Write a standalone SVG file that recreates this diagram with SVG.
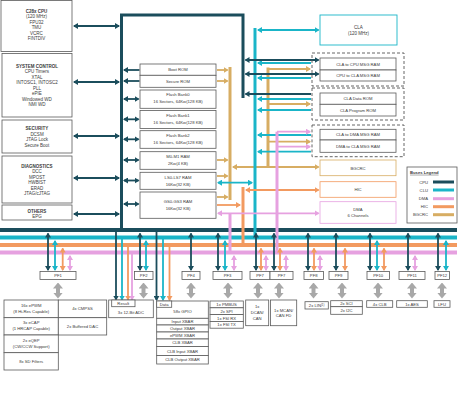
<svg xmlns="http://www.w3.org/2000/svg" width="474" height="400" viewBox="0 0 474 400">
<style>
.bx{fill:#fff;stroke:#5a5a5a;stroke-width:0.8}
.ds{fill:none;stroke:#555;stroke-width:0.9;stroke-dasharray:3 2}
text{font-family:"Liberation Sans",Arial,sans-serif;font-size:4.5px;fill:#3a3a3a;text-anchor:middle}
.b{font-weight:bold}
.s{font-size:4.2px}
.D{stroke:#1b4d5c;fill:none}
.C{stroke:#1ab5c8;fill:none}
.O{stroke:#f29a60;fill:none}
.P{stroke:#e6a1e0;fill:none}
.T{stroke:#d7ad63;fill:none}
.G{stroke:#a8a8a8;fill:none;stroke-width:4}
.w2{stroke-width:1.8}
.w3{stroke-width:3}
.w4{stroke-width:4}
</style>
<defs>
<marker id="mD" viewBox="0 0 5 6" refX="4" refY="3" markerWidth="5" markerHeight="6" markerUnits="userSpaceOnUse" orient="auto-start-reverse"><path d="M0,0L5,3L0,6z" fill="#1b4d5c"/></marker>
<marker id="mC" viewBox="0 0 5 6" refX="4" refY="3" markerWidth="5" markerHeight="6" markerUnits="userSpaceOnUse" orient="auto-start-reverse"><path d="M0,0L5,3L0,6z" fill="#1ab5c8"/></marker>
<marker id="mO" viewBox="0 0 5 6" refX="4" refY="3" markerWidth="5" markerHeight="6" markerUnits="userSpaceOnUse" orient="auto-start-reverse"><path d="M0,0L5,3L0,6z" fill="#f29a60"/></marker>
<marker id="mP" viewBox="0 0 5 6" refX="4" refY="3" markerWidth="5" markerHeight="6" markerUnits="userSpaceOnUse" orient="auto-start-reverse"><path d="M0,0L5,3L0,6z" fill="#e6a1e0"/></marker>
<marker id="mT" viewBox="0 0 5 6" refX="4" refY="3" markerWidth="5" markerHeight="6" markerUnits="userSpaceOnUse" orient="auto-start-reverse"><path d="M0,0L5,3L0,6z" fill="#d7ad63"/></marker>
<marker id="mG" viewBox="0 0 6 10" refX="3.5" refY="5" markerWidth="6" markerHeight="10" markerUnits="userSpaceOnUse" orient="auto-start-reverse"><path d="M0,0L6,5L0,10z" fill="#a8a8a8"/></marker>
</defs>
<rect width="474" height="400" fill="#fff"/>

<g id="connectors">
<!-- bottom buses -->
<line class="D w4" x1="0" y1="230" x2="457" y2="230"/>
<line class="C w4" x1="0" y1="237.5" x2="457" y2="237.5"/>
<line class="O w4" x1="0" y1="245" x2="457" y2="245"/>
<line class="P w4" x1="0" y1="252.5" x2="457" y2="252.5"/>
<!-- CPU frame -->
<path class="D w3" d="M121.5,230V15H243V98"/>
<!-- left blocks -->
<path class="D w2" d="M74,26H119" marker-start="url(#mD)" marker-end="url(#mD)"/>
<path class="D w2" d="M74,82H119" marker-start="url(#mD)" marker-end="url(#mD)"/>
<path class="D w2" d="M74,136H119" marker-start="url(#mD)" marker-end="url(#mD)"/>
<path class="D w2" d="M74,178H119" marker-start="url(#mD)" marker-end="url(#mD)"/>
<path class="D w2" d="M74,214H119" marker-start="url(#mD)" marker-end="url(#mD)"/>
<!-- memory CPU side -->
<path class="D w2" d="M139.5,70H124" marker-end="url(#mD)"/>
<path class="D w2" d="M139.5,81H124" marker-end="url(#mD)"/>
<path class="D w2" d="M124,99H138.5" marker-start="url(#mD)" marker-end="url(#mD)"/>
<path class="D w2" d="M124,119.3H138.5" marker-start="url(#mD)" marker-end="url(#mD)"/>
<path class="D w2" d="M124,139.3H138.5" marker-start="url(#mD)" marker-end="url(#mD)"/>
<path class="D w2" d="M124,160H138.5" marker-start="url(#mD)" marker-end="url(#mD)"/>
<path class="D w2" d="M124,180.5H138.5" marker-start="url(#mD)" marker-end="url(#mD)"/>
<path class="D w2" d="M124,204H138.5" marker-start="url(#mD)" marker-end="url(#mD)"/>
<!-- BGCRC -->
<path class="T w3" d="M230,67V200"/>
<path class="T w2" d="M217,70H227.5" marker-end="url(#mT)"/>
<path class="T w2" d="M217,81H227.5" marker-end="url(#mT)"/>
<path class="T w2" d="M217,160H227.5" marker-end="url(#mT)"/>
<path class="T w2" d="M217,176H227.5" marker-end="url(#mT)"/>
<path class="T w2" d="M217,197H227.5" marker-end="url(#mT)"/>
<path class="T w3" d="M268,167V67.5"/>
<path class="T w2" d="M233,167H318.5" marker-start="url(#mT)" marker-end="url(#mT)"/>
<path class="T w2" d="M268,69H310" marker-end="url(#mT)"/>
<path class="T w2" d="M268,104H310" marker-end="url(#mT)"/>
<path class="T w2" d="M268,141.7H310" marker-end="url(#mT)"/>
<!-- CLU -->
<path class="C w3" d="M255,28V237"/>
<path class="C w2" d="M258,30H318.5" marker-start="url(#mC)" marker-end="url(#mC)"/>
<path class="C w2" d="M311,63H258" marker-end="url(#mC)"/>
<path class="C w2" d="M311,78H258" marker-end="url(#mC)"/>
<path class="C w2" d="M311,99H258" marker-end="url(#mC)"/>
<path class="C w2" d="M311,110H258" marker-end="url(#mC)"/>
<path class="C w2" d="M311,135H258" marker-end="url(#mC)"/>
<path class="C w2" d="M311,151.7H258" marker-end="url(#mC)"/>
<path class="C w2" d="M218,182.7H252" marker-start="url(#mC)" marker-end="url(#mC)"/>
<!-- CPU to CLA msg -->
<path class="D w2" d="M245.5,60H318.5" marker-start="url(#mD)" marker-end="url(#mD)"/>
<path class="D w2" d="M245.5,74H318.5" marker-start="url(#mD)" marker-end="url(#mD)"/>
<path class="D w2" d="M311,94H245.5" marker-end="url(#mD)"/>
<!-- HIC -->
<path class="O w3" d="M243,187V245"/>
<path class="O w2" d="M246,190H318.5" marker-start="url(#mO)" marker-end="url(#mO)"/>
<path class="O w2" d="M217,205H240" marker-end="url(#mO)"/>
<!-- DMA -->
<path class="P w3" d="M277,131.7V252"/>
<path class="P w2" d="M277,131.7H310" marker-end="url(#mP)"/>
<path class="P w2" d="M277,146.7H310" marker-end="url(#mP)"/>
<path class="P w3" d="M230,213.3V252"/>
<path class="P w2" d="M218,213.3H318.5" marker-start="url(#mP)" marker-end="url(#mP)"/>
<!-- bus to peripheral frames -->
<g class="w2">
<path class="D" d="M48,233.5V270" marker-start="url(#mD)" marker-end="url(#mD)"/>
<path class="C" d="M55,241V270" marker-start="url(#mC)" marker-end="url(#mC)"/>
<path class="O" d="M62.7,248.5V270" marker-start="url(#mO)" marker-end="url(#mO)"/>
<path class="P" d="M70,256V270" marker-start="url(#mP)" marker-end="url(#mP)"/>
<path class="D" d="M116,230V299.5" marker-end="url(#mD)"/>
<path class="C" d="M122,237.5V299.5" marker-end="url(#mC)"/>
<path class="O" d="M128,245V299.5" marker-end="url(#mO)"/>
<path class="P" d="M132,252.5V299.5" marker-end="url(#mP)"/>
<path class="D" d="M140,233.5V270" marker-start="url(#mD)" marker-end="url(#mD)"/>
<path class="C" d="M146,241V270" marker-start="url(#mC)" marker-end="url(#mC)"/>
<path class="D" d="M156.5,230V300" marker-end="url(#mD)"/>
<path class="C" d="M163,237.5V300" marker-end="url(#mC)"/>
<path class="O" d="M169.5,245V300" marker-end="url(#mO)"/>
<path class="D" d="M191,233.5V270" marker-start="url(#mD)" marker-end="url(#mD)"/>
<path class="D" d="M218,233.5V270" marker-start="url(#mD)" marker-end="url(#mD)"/>
<path class="C" d="M225,241V270" marker-start="url(#mC)" marker-end="url(#mC)"/>
<path class="P" d="M234,256V270" marker-start="url(#mP)" marker-end="url(#mP)"/>
<path class="D" d="M256,233.5V270" marker-start="url(#mD)" marker-end="url(#mD)"/>
<path class="O" d="M261,248.5V270" marker-start="url(#mO)" marker-end="url(#mO)"/>
<path class="P" d="M266,256V270" marker-start="url(#mP)" marker-end="url(#mP)"/>
<path class="D" d="M274,233.5V270" marker-start="url(#mD)" marker-end="url(#mD)"/>
<path class="O" d="M280,248.5V270" marker-start="url(#mO)" marker-end="url(#mO)"/>
<path class="P" d="M286,256V270" marker-start="url(#mP)" marker-end="url(#mP)"/>
<path class="D" d="M308,233.5V270" marker-start="url(#mD)" marker-end="url(#mD)"/>
<path class="O" d="M314,248.5V270" marker-start="url(#mO)" marker-end="url(#mO)"/>
<path class="P" d="M320,256V270" marker-start="url(#mP)" marker-end="url(#mP)"/>
<path class="D" d="M336,233.5V270" marker-start="url(#mD)" marker-end="url(#mD)"/>
<path class="O" d="M345,248.5V270" marker-start="url(#mO)" marker-end="url(#mO)"/>
<path class="D" d="M370,233.5V270" marker-start="url(#mD)" marker-end="url(#mD)"/>
<path class="C" d="M377,241V270" marker-start="url(#mC)" marker-end="url(#mC)"/>
<path class="O" d="M384,248.5V270" marker-start="url(#mO)" marker-end="url(#mO)"/>
<path class="D" d="M408,233.5V270" marker-start="url(#mD)" marker-end="url(#mD)"/>
<path class="P" d="M415,256V270" marker-start="url(#mP)" marker-end="url(#mP)"/>
<path class="D" d="M438,233.5V270" marker-start="url(#mD)" marker-end="url(#mD)"/>
<path class="C" d="M446,241V270" marker-start="url(#mC)" marker-end="url(#mC)"/>
</g>
<!-- grey frame to peripheral -->
<path class="G" d="M58,285V296" marker-start="url(#mG)" marker-end="url(#mG)"/>
<path class="G" d="M143.5,285V296" marker-start="url(#mG)" marker-end="url(#mG)"/>
<path class="G" d="M191,285V296" marker-start="url(#mG)" marker-end="url(#mG)"/>
<path class="G" d="M228,285V296" marker-start="url(#mG)" marker-end="url(#mG)"/>
<path class="G" d="M258,285V296" marker-start="url(#mG)" marker-end="url(#mG)"/>
<path class="G" d="M279,285V296" marker-start="url(#mG)" marker-end="url(#mG)"/>
<path class="G" d="M313.5,285V296" marker-start="url(#mG)" marker-end="url(#mG)"/>
<path class="G" d="M342,285V296" marker-start="url(#mG)" marker-end="url(#mG)"/>
<path class="G" d="M378,285V296" marker-start="url(#mG)" marker-end="url(#mG)"/>
<path class="G" d="M412,285V296" marker-start="url(#mG)" marker-end="url(#mG)"/>
<path class="G" d="M442,285V296" marker-start="url(#mG)" marker-end="url(#mG)"/>
</g>

<!-- left column -->
<g id="c28x-cpu"><rect class="bx" x="1" y="0.5" width="71" height="51"/>
<text class="b" x="36.5" y="13.3">C28x CPU</text><text x="36.5" y="18.3">(120 MHz)</text><text x="36.5" y="23.6">FPU32</text><text x="36.5" y="29.1">TMU</text><text x="36.5" y="34.6">VCRC</text><text x="36.5" y="40.1">FINTDIV</text></g>
<g id="system-control"><rect class="bx" x="2" y="53.5" width="70" height="63.5"/>
<text class="b" x="37" y="67.6">SYSTEM CONTROL</text><text x="37" y="73.1">CPU Timers</text><text x="37" y="78.6">XTAL</text><text x="37" y="84.1">INTOSC1, INTOSC2</text><text x="37" y="89.6">PLL</text><text x="37" y="95.1">ePIE</text><text x="37" y="100.6">Windowed WD</text><text x="37" y="106.1">NMI WD</text></g>
<g id="security"><rect class="bx" x="2" y="120" width="70" height="33"/>
<text class="b" x="37" y="130.3">SECURITY</text><text x="37" y="135.8">DCSM</text><text x="37" y="141.3">JTAG Lock</text><text x="37" y="146.8">Secure Boot</text></g>
<g id="diagnostics"><rect class="bx" x="2" y="156" width="70" height="47"/>
<text class="b" x="37" y="167.6">DIAGNOSTICS</text><text x="37" y="173.1">DCC</text><text x="37" y="178.6">MPOST</text><text x="37" y="184.1">HWBIST</text><text x="37" y="189.6">ERAD</text><text x="37" y="195.1">JTAG/cJTAG</text></g>
<g id="others"><rect class="bx" x="2" y="205" width="70" height="15"/>
<text class="b" x="37" y="212.6">OTHERS</text><text x="37" y="218.2">EPG</text></g>

<!-- memories -->
<g id="boot-rom"><rect class="bx" x="140" y="64" width="76" height="11.3"/><text class="s" x="178" y="71.3">Boot ROM</text></g>
<g id="secure-rom"><rect class="bx" x="140" y="75.3" width="76" height="12"/><text class="s" x="178" y="82.9">Secure ROM</text></g>
<g id="flash-bank0"><rect class="bx" x="140" y="90" width="76" height="18.3"/><text class="s" x="178" y="95.8">Flash Bank0</text><text class="s" x="178" y="103.3">16 Sectors, 64Kw(128 KB)</text></g>
<g id="flash-bank1"><rect class="bx" x="140" y="110.5" width="76" height="18"/><text class="s" x="178" y="116.6">Flash Bank1</text><text class="s" x="178" y="124">16 Sectors, 64Kw(128 KB)</text></g>
<g id="flash-bank2"><rect class="bx" x="140" y="130.7" width="76" height="17.6"/><text class="s" x="178" y="137.3">Flash Bank2</text><text class="s" x="178" y="144.3">16 Sectors, 64Kw(128 KB)</text></g>
<g id="m0-m1-ram"><rect class="bx" x="140" y="151.7" width="76" height="17.6"/><text class="s" x="178" y="158.3">M0-M1 RAM</text><text class="s" x="178" y="165">2Kw(4 KB)</text></g>
<g id="ls-ram"><rect class="bx" x="140" y="172.3" width="76" height="17"/><text class="s" x="178" y="178.5">LS0-LS7 RAM</text><text class="s" x="178" y="185.6">16Kw(32 KB)</text></g>
<g id="gs-ram"><rect class="bx" x="140" y="192" width="76" height="26.3"/><text class="s" x="178" y="203.3">GS0-GS3 RAM</text><text class="s" x="178" y="210">16Kw(32 KB)</text></g>

<!-- right column -->
<g id="cla"><rect x="320" y="15" width="77" height="30" fill="#fff" stroke="#1ab5c8" stroke-width="0.9"/><text x="358.5" y="28.6">CLA</text><text x="358.5" y="34.6">(120 MHz)</text></g>
<g id="msg-ram-group"><rect class="ds" x="312" y="53" width="92" height="33"/>
<rect class="bx" x="320" y="58" width="76" height="12"/><text class="s" x="358" y="65.6">CLA to CPU MSG RAM</text>
<rect class="bx" x="320" y="70" width="76" height="11"/><text class="s" x="358" y="77.1">CPU to CLA MSG RAM</text></g>
<g id="cla-rom-group"><rect class="ds" x="312" y="88" width="92" height="32"/>
<rect class="bx" x="320" y="93" width="76" height="11.3"/><text class="s" x="358" y="100.3">CLA Data ROM</text>
<rect class="bx" x="320" y="104.3" width="76" height="11.7"/><text class="s" x="358" y="111.7">CLA Program ROM</text></g>
<g id="dma-msg-group"><rect class="ds" x="312" y="125" width="92" height="31.7"/>
<rect class="bx" x="320" y="129.3" width="76" height="10.7"/><text class="s" x="358" y="136.3">CLA to DMA MSG RAM</text>
<rect class="bx" x="320" y="140" width="76" height="12.3"/><text class="s" x="358" y="147.7">DMA to CLA MSG RAM</text></g>
<g id="bgcrc"><rect x="320" y="160" width="76" height="15.7" fill="#fff" stroke="#d7ad63" stroke-width="0.8"/><text class="s" x="358" y="169.6">BGCRC</text></g>
<g id="hic"><rect x="320" y="181.7" width="76" height="15.6" fill="#fff" stroke="#f29a60" stroke-width="0.8"/><text class="s" x="358" y="191.1">HIC</text></g>
<g id="dma"><rect x="320" y="201.7" width="76" height="21.6" fill="#fff" stroke="#e6a1e0" stroke-width="0.8"/><text class="s" x="358" y="210.8">DMA</text><text class="s" x="358" y="217">6 Channels</text></g>

<g id="legend"><rect class="bx" x="407" y="167" width="50" height="56"/>
<text class="b s" x="410" y="173.8" text-anchor="start" style="text-anchor:start;text-decoration:underline">Buses Legend</text>
<text class="s" x="428" y="183.5" style="text-anchor:end">CPU</text><line class="D w3" x1="433" y1="182" x2="454" y2="182"/>
<text class="s" x="428" y="191.5" style="text-anchor:end">CLU</text><line class="C w3" x1="433" y1="190" x2="454" y2="190"/>
<text class="s" x="428" y="200.2" style="text-anchor:end">DMA</text><line class="P w3" x1="433" y1="198.7" x2="454" y2="198.7"/>
<text class="s" x="428" y="208.2" style="text-anchor:end">HIC</text><line class="O w3" x1="433" y1="206.7" x2="454" y2="206.7"/>
<text class="s" x="428" y="216.2" style="text-anchor:end">BGCRC</text><line class="T w3" x1="433" y1="214.7" x2="454" y2="214.7"/></g>

<!-- peripheral frames -->
<g id="pf1"><rect class="bx" x="40" y="271.5" width="36" height="8"/><text class="s" x="58" y="277.1">PF1</text></g>
<g id="pf2"><rect class="bx" x="134.5" y="271.5" width="18.5" height="8"/><text class="s" x="143.7" y="277.1">PF2</text></g>
<g id="pf4"><rect class="bx" x="182" y="271.5" width="18" height="8"/><text class="s" x="191" y="277.1">PF4</text></g>
<g id="pf3"><rect class="bx" x="213" y="271.5" width="29" height="8"/><text class="s" x="227.5" y="277.1">PF3</text></g>
<g id="pf7a"><rect class="bx" x="250" y="271.5" width="20" height="8"/><text class="s" x="260" y="277.1">PF7</text></g>
<g id="pf7b"><rect class="bx" x="270" y="271.5" width="23" height="8"/><text class="s" x="281.5" y="277.1">PF7</text></g>
<g id="pf8"><rect class="bx" x="304" y="271.5" width="19.5" height="8"/><text class="s" x="313.7" y="277.1">PF8</text></g>
<g id="pf9"><rect class="bx" x="329" y="271.5" width="19" height="8"/><text class="s" x="338.5" y="277.1">PF9</text></g>
<g id="pf10"><rect class="bx" x="367" y="271.5" width="22.5" height="8"/><text class="s" x="378.2" y="277.1">PF10</text></g>
<g id="pf11"><rect class="bx" x="399" y="271.5" width="26" height="8"/><text class="s" x="412" y="277.1">PF11</text></g>
<g id="pf12"><rect class="bx" x="435" y="271.5" width="14.5" height="8"/><text class="s" x="442.2" y="277.1">PF12</text></g>

<!-- peripherals -->
<g id="epwm"><rect class="bx" x="4" y="300" width="54.3" height="17.7"/><text class="s" x="31.2" y="306.8">16x ePWM</text><text class="s" x="31.2" y="312.6">(8 Hi-Res Capable)</text></g>
<g id="cmpss"><rect class="bx" x="58.3" y="300" width="48.4" height="17.7"/><text class="s" x="82.5" y="310.4">4x CMPSS</text></g>
<g id="ecap"><rect class="bx" x="4" y="317.7" width="54.3" height="17.3"/><text class="s" x="31.2" y="324">3x eCAP</text><text class="s" x="31.2" y="329.9">(1 HRCAP Capable)</text></g>
<g id="dac"><rect class="bx" x="58.3" y="317.7" width="48.4" height="17.3"/><text class="s" x="82.5" y="327.8">2x Buffered DAC</text></g>
<g id="eqep"><rect class="bx" x="4" y="335" width="54.3" height="17.7"/><text class="s" x="31.2" y="341.6">2x eQEP</text><text class="s" x="31.2" y="348">(CW/CCW Support)</text></g>
<g id="sdfm"><rect class="bx" x="4" y="352.7" width="54.3" height="17.3"/><text class="s" x="31.2" y="362.8">8x SD Filters</text></g>
<g id="adc"><rect class="bx" x="108.7" y="300" width="44.6" height="17.7"/><rect class="bx" x="111.7" y="300" width="23.3" height="6.7"/><text class="s" x="123.3" y="305">Result</text><text class="s" x="131" y="314.3">3x 12-Bit ADC</text></g>
<g id="gpio"><rect class="bx" x="156.7" y="301" width="51.6" height="17.3"/><rect class="bx" x="156.7" y="301" width="15" height="6.3"/><text class="s" x="164.2" y="305.7">Data</text><text class="s" x="182.5" y="313.3">58x GPIO</text>
<rect class="bx" x="156.7" y="318.3" width="51.6" height="6.7"/><text class="s" x="182.5" y="323.2">Input XBAR</text>
<rect class="bx" x="156.7" y="325" width="51.6" height="7"/><text class="s" x="182.5" y="330">Output XBAR</text>
<rect class="bx" x="156.7" y="332" width="51.6" height="7"/><text class="s" x="182.5" y="337">ePWM XBAR</text>
<rect class="bx" x="156.7" y="339" width="51.6" height="7.5"/><text class="s" x="182.5" y="344.2">CLB XBAR</text>
<rect class="bx" x="156.7" y="346.5" width="51.6" height="9"/><text class="s" x="182.5" y="352.5">CLB Input XBAR</text>
<rect class="bx" x="156.7" y="355.5" width="51.6" height="8.5"/><text class="s" x="182.5" y="361.3">CLB Output XBAR</text></g>
<g id="comms-pf3"><rect class="bx" x="210" y="301" width="33.3" height="6.8"/><text class="s" x="226.6" y="306">1x PMBUS</text>
<rect class="bx" x="210" y="307.8" width="33.3" height="6.8"/><text class="s" x="226.6" y="312.8">2x SPI</text>
<rect class="bx" x="210" y="314.6" width="33.3" height="6.8"/><text class="s" x="226.6" y="319.6">1x FSI RX</text>
<rect class="bx" x="210" y="321.4" width="33.3" height="6.8"/><text class="s" x="226.6" y="326.4">1x FSI TX</text></g>
<g id="dcan"><rect class="bx" x="245.7" y="300" width="23" height="25.7"/><text class="s" x="257.2" y="308.3">1x</text><text class="s" x="257.2" y="314.3">DCAN/</text><text class="s" x="257.2" y="320">CAN</text></g>
<g id="mcan"><rect class="bx" x="270.5" y="300" width="26.2" height="25.7"/><text class="s" x="283.6" y="311.6">1x MCAN/</text><text class="s" x="283.6" y="317.2">CAN FD</text></g>
<g id="lin"><rect class="bx" x="305" y="301.7" width="23.3" height="7.3"/><text class="s" x="316.6" y="307">2x LIN<tspan font-size="2.8" dy="-1.4">(1)</tspan></text></g>
<g id="sci-i2c"><rect class="bx" x="330.7" y="300.7" width="31.6" height="6"/><text class="s" x="346.5" y="305.3">2x SCI</text>
<rect class="bx" x="330.7" y="306.7" width="31.6" height="7.6"/><text class="s" x="346.5" y="312.1">2x I2C</text></g>
<g id="clb"><rect class="bx" x="366.7" y="300.7" width="26" height="6.6"/><text class="s" x="379.7" y="305.6">4x CLB</text></g>
<g id="aes"><rect class="bx" x="396.7" y="300.7" width="30.6" height="6.6"/><text class="s" x="412" y="305.6">1x AES</text></g>
<g id="lfu"><rect class="bx" x="434" y="300.7" width="16" height="6.6"/><text class="s" x="442" y="305.6">LFU</text></g>
</svg>
